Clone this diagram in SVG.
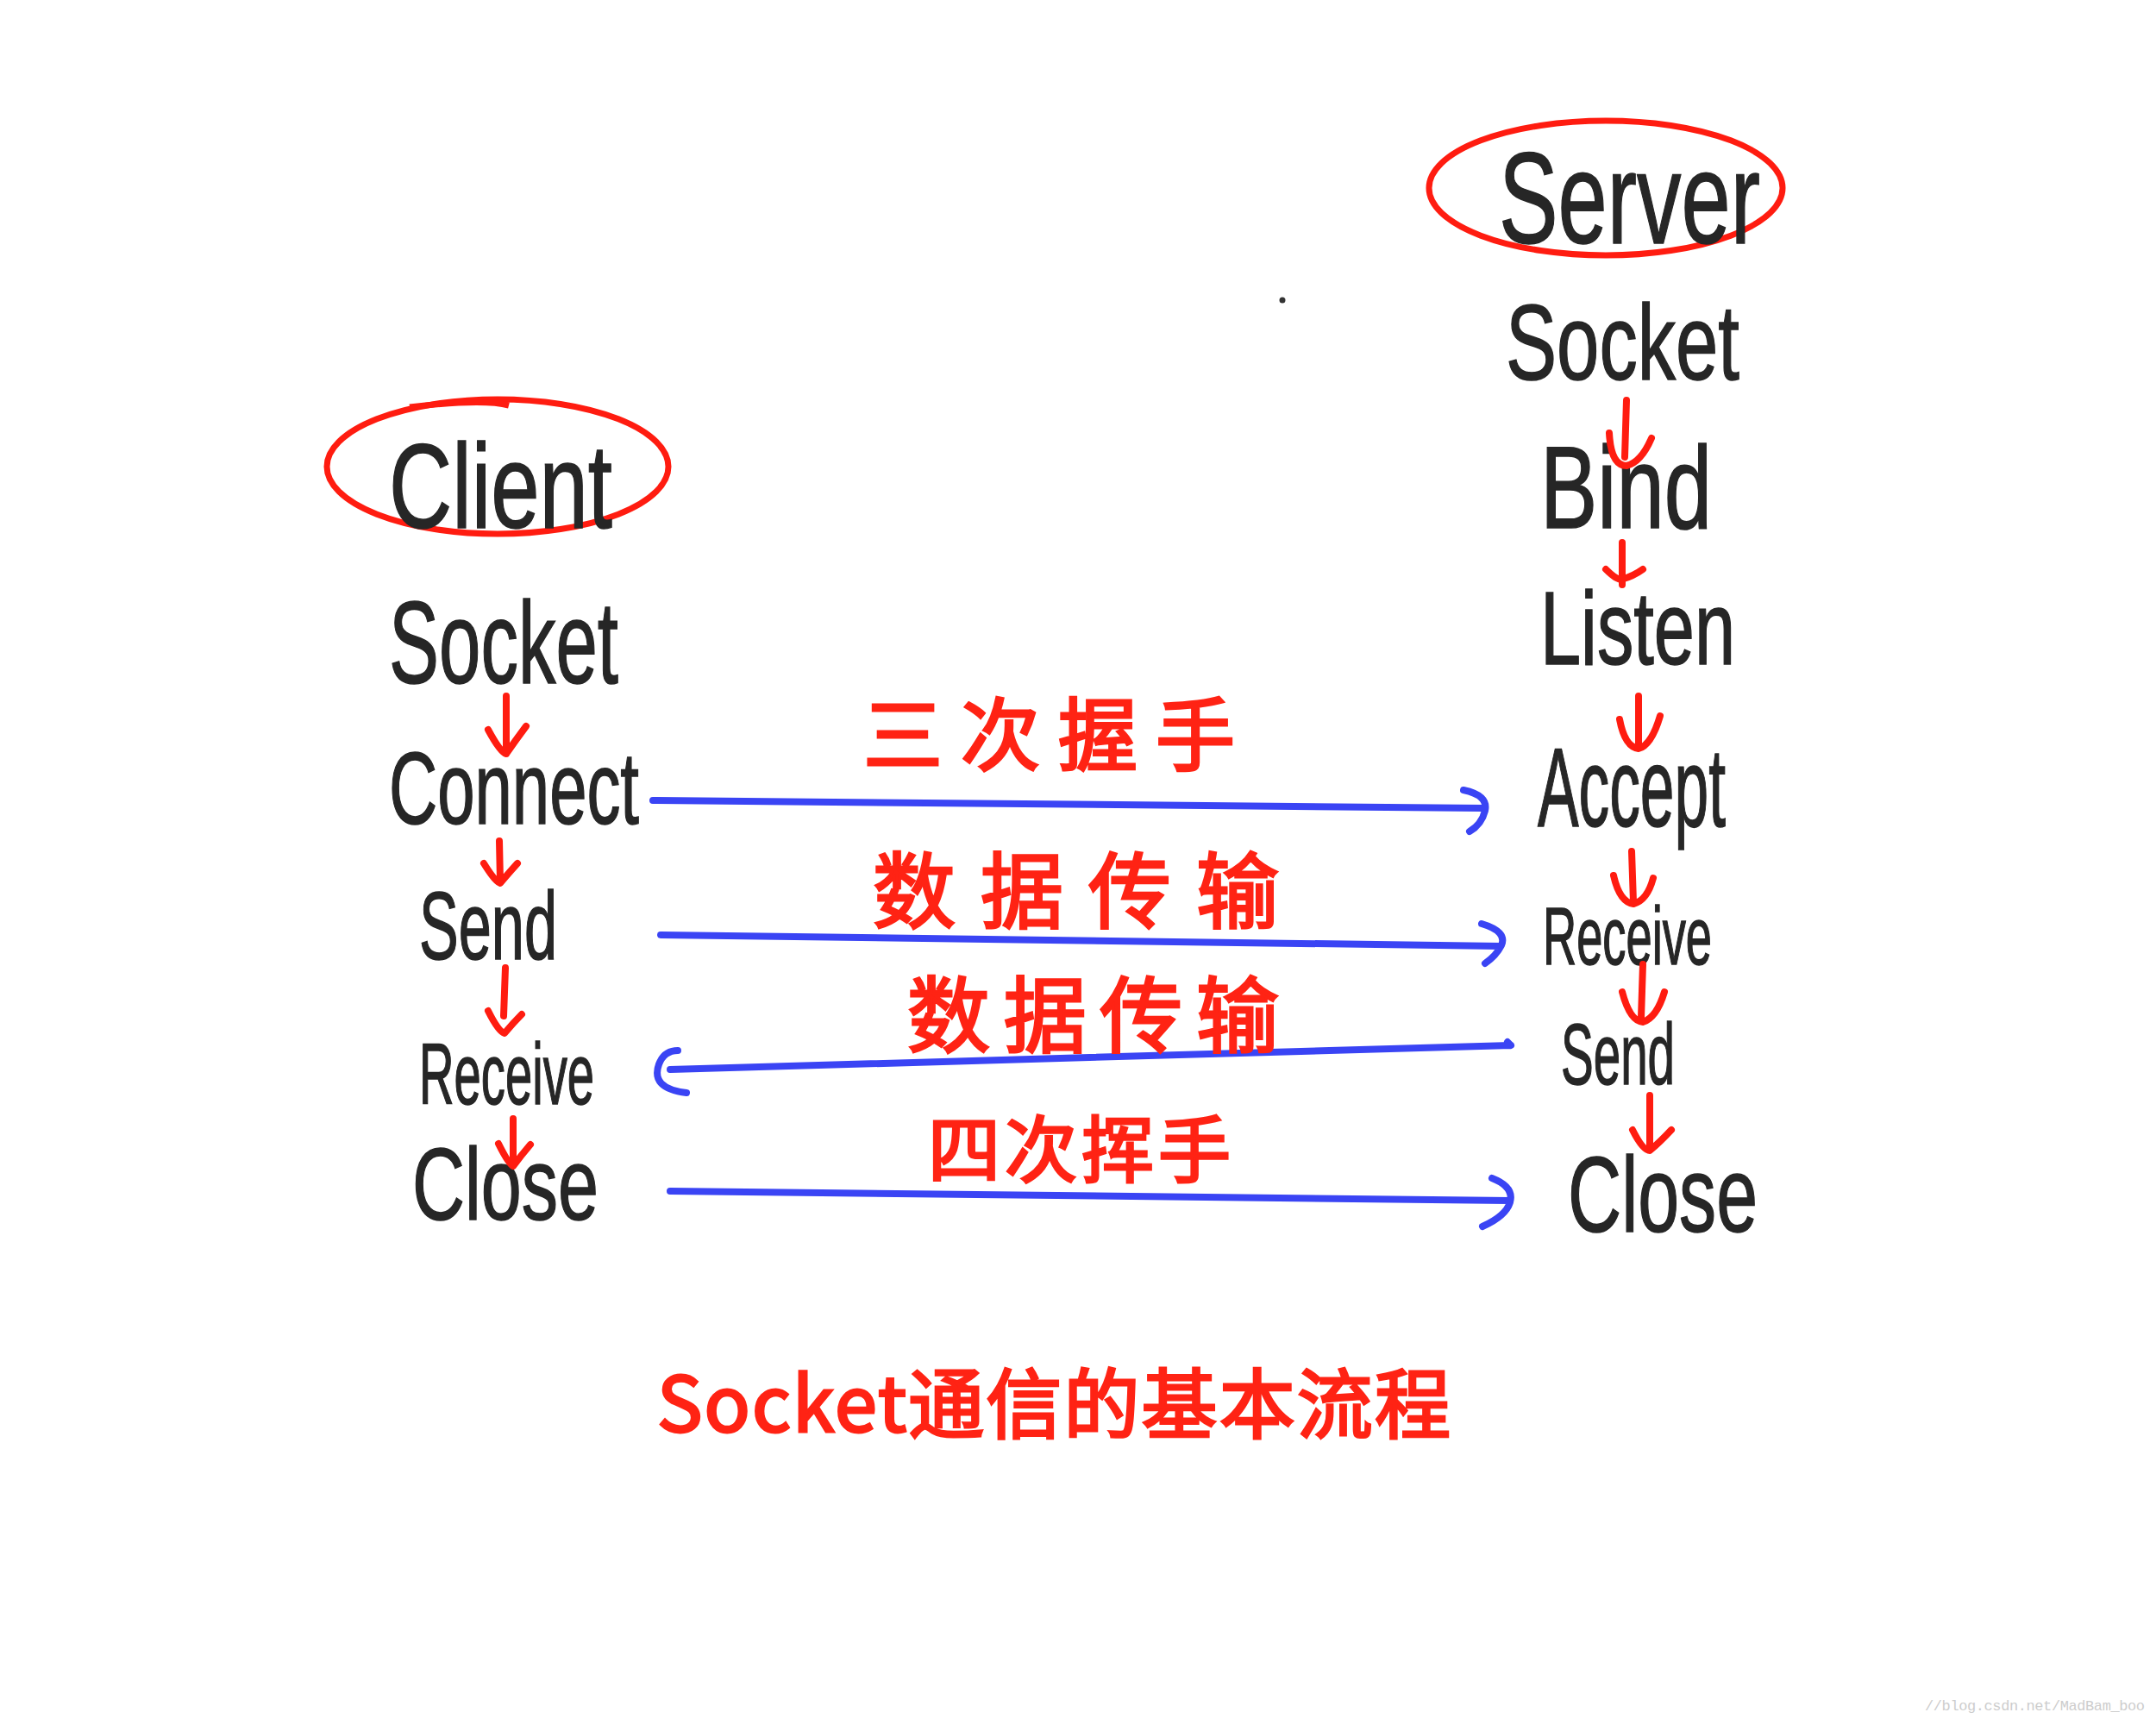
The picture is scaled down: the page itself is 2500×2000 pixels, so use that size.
<svg xmlns="http://www.w3.org/2000/svg" width="2500" height="2000" viewBox="0 0 2500 2000">
<style>
.hw{font-family:"Liberation Sans","DejaVu Sans",sans-serif;fill:#262626;stroke:#262626;stroke-width:1.5;}
.cn{font-family:"Noto Sans CJK SC",sans-serif;fill:#ff2314;stroke:#ff2314;stroke-width:3;font-weight:400;}
.ring{fill:none;stroke:#ff1c10;stroke-width:7;}
.down{fill:none;stroke:#ff1c10;stroke-width:8;stroke-linecap:round;stroke-linejoin:round;}
.msg{fill:none;stroke:#3a44f4;stroke-width:8;stroke-linecap:round;stroke-linejoin:round;}
.wm{font-family:"Liberation Mono","DejaVu Sans Mono",monospace;fill:#cdcdcd;font-size:17px;}
</style>
<rect width="2500" height="2000" fill="#ffffff"/>

<g id="client-title">
<ellipse class="ring" cx="577" cy="541" rx="198" ry="78"/>
<path class="ring" d="M475 472 Q560 462 590 470"/>
<text class="hw" x="451" y="612" font-size="140" textLength="259" lengthAdjust="spacingAndGlyphs">Client</text>
</g>
<g id="server-title">
<ellipse class="ring" cx="1862" cy="218" rx="205" ry="78"/>
<text class="hw" x="1738" y="282" font-size="150" textLength="303" lengthAdjust="spacingAndGlyphs">Server</text>
</g>

<g id="c-socket"><text class="hw" x="451" y="792" font-size="135" textLength="266" lengthAdjust="spacingAndGlyphs">Socket</text></g>
<g id="c-connect"><text class="hw" x="451" y="955" font-size="118" textLength="290" lengthAdjust="spacingAndGlyphs">Connect</text></g>
<g id="c-send"><text class="hw" x="486" y="1112" font-size="112" textLength="160" lengthAdjust="spacingAndGlyphs">Send</text></g>
<g id="c-receive"><text class="hw" x="486" y="1280" font-size="100" textLength="203" lengthAdjust="spacingAndGlyphs">Receive</text></g>
<g id="c-close"><text class="hw" x="478" y="1414" font-size="118" textLength="216" lengthAdjust="spacingAndGlyphs">Close</text></g>

<g id="s-socket"><text class="hw" x="1746" y="440" font-size="125" textLength="271" lengthAdjust="spacingAndGlyphs">Socket</text></g>
<g id="s-bind"><text class="hw" x="1786" y="612" font-size="135" textLength="199" lengthAdjust="spacingAndGlyphs">Bind</text></g>
<g id="s-listen"><text class="hw" x="1786" y="770" font-size="120" textLength="226" lengthAdjust="spacingAndGlyphs">Listen</text></g>
<g id="s-accept"><text class="hw" x="1783" y="958" font-size="130" textLength="218" lengthAdjust="spacingAndGlyphs">Accept</text></g>
<g id="s-receive"><text class="hw" x="1789" y="1118" font-size="95" textLength="196" lengthAdjust="spacingAndGlyphs">Receive</text></g>
<g id="s-send"><text class="hw" x="1810" y="1257" font-size="100" textLength="132" lengthAdjust="spacingAndGlyphs">Send</text></g>
<g id="s-close"><text class="hw" x="1818" y="1428" font-size="125" textLength="220" lengthAdjust="spacingAndGlyphs">Close</text></g>

<g id="connectors">
<path class="down" d="M587 807 L587 874 M566 846 Q580 872 587 874 Q598 858 610 842"/>
<path class="down" d="M579 975 L580 1022 M561 1001 Q574 1022 580 1024 Q590 1012 600 1001"/>
<path class="down" d="M586 1122 L584 1178 M566 1172 Q578 1196 585 1198 Q595 1186 605 1176"/>
<path class="down" d="M595 1297 L595 1349 M578 1326 Q590 1350 595 1352 Q604 1340 615 1327"/>

<path class="down" d="M1886 464 L1884 530 M1866 502 Q1868 540 1886 540 Q1903 536 1915 508"/>
<path class="down" d="M1881 629 L1881 678 M1862 660 Q1874 672 1880 672 Q1894 668 1905 660"/>
<path class="down" d="M1900 807 L1900 866 M1878 834 Q1884 866 1900 868 Q1915 864 1925 830"/>
<path class="down" d="M1892 987 L1894 1046 M1871 1015 Q1878 1046 1894 1048 Q1910 1044 1917 1018"/>
<path class="down" d="M1905 1118 L1903 1180 M1881 1150 Q1890 1184 1905 1185 Q1921 1180 1930 1150"/>
<path class="down" d="M1913 1270 L1913 1330 M1893 1310 Q1905 1334 1913 1334 Q1925 1324 1938 1310"/>

<path class="msg" d="M757 928 L1720 937 M1697 916 Q1726 922 1722 940 Q1718 956 1704 964"/>
<path class="msg" d="M766 1084 L1740 1097 M1718 1071 Q1748 1080 1741 1096 Q1735 1108 1722 1117"/>
<path class="msg" d="M1752 1212 L1748 1208 M1752 1212 L777 1240 M786 1218 Q770 1218 764 1234 Q754 1262 796 1267"/>
<path class="msg" d="M777 1381 L1750 1392 M1730 1366 Q1756 1376 1751 1394 Q1746 1410 1719 1422"/>
</g>

<g id="label-handshake3"><text class="cn" x="1001" y="886" font-size="92" textLength="431">三次握手</text></g>
<g id="label-data1"><text class="cn" x="1012" y="1068" font-size="96" textLength="471">数据传输</text></g>
<g id="label-data2"><text class="cn" x="1052" y="1212" font-size="96" textLength="431">数据传输</text></g>
<g id="label-handshake4"><text class="cn" x="1076" y="1364" font-size="84" textLength="351">四次挥手</text></g>

<g id="title"><text class="cn" x="762" y="1660" font-size="88" textLength="920">Socket通信的基本流程</text></g>

<circle cx="1487" cy="348" r="3.5" fill="#333"/>
<text class="wm" x="2232" y="1983" textLength="255">//blog.csdn.net/MadBam_boo</text>
</svg>
